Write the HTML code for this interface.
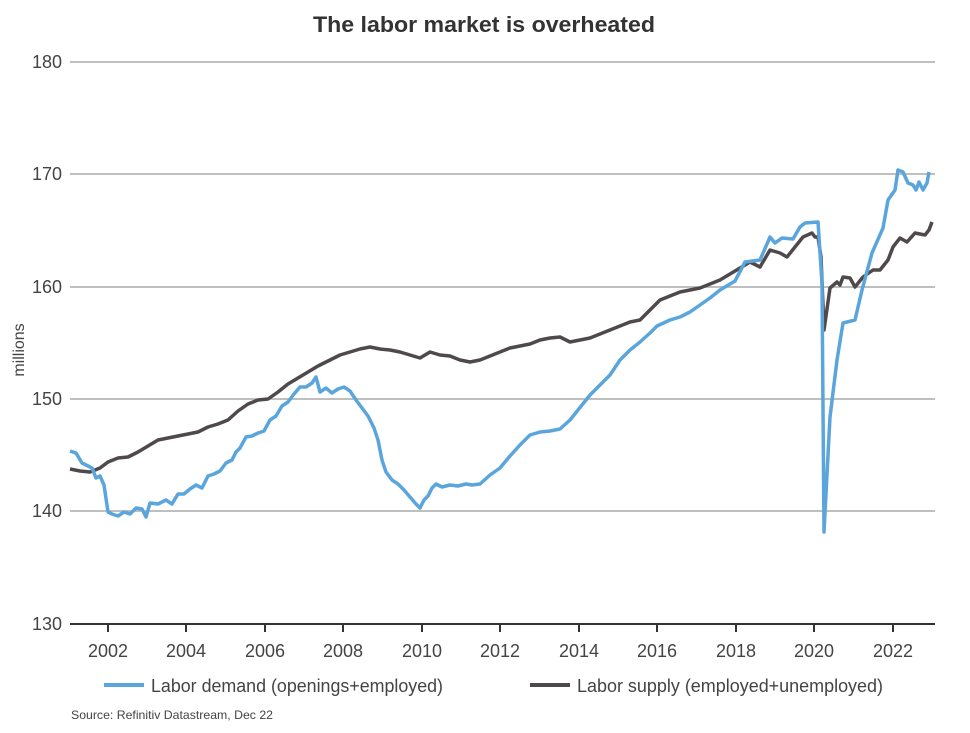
<!DOCTYPE html><html><head><meta charset="utf-8"><style>body{margin:0;background:#fff;width:970px;height:728px;overflow:hidden}svg{font-family:"Liberation Sans",sans-serif}</style></head><body>
<svg width="970" height="728" viewBox="0 0 970 728">
<text x="484" y="32" text-anchor="middle" font-size="22" font-weight="bold" fill="#333" textLength="342" lengthAdjust="spacingAndGlyphs">The labor market is overheated</text>
<g stroke="#aaa" stroke-width="1.5">
<line x1="70" y1="62" x2="935" y2="62"/><line x1="70" y1="174" x2="935" y2="174"/><line x1="70" y1="287" x2="935" y2="287"/><line x1="70" y1="399" x2="935" y2="399"/><line x1="70" y1="511" x2="935" y2="511"/></g>
<line x1="70" y1="624" x2="935" y2="624" stroke="#333" stroke-width="2"/>
<g stroke="#333" stroke-width="2">
<line x1="108" y1="624" x2="108" y2="632"/><line x1="186" y1="624" x2="186" y2="632"/><line x1="265" y1="624" x2="265" y2="632"/><line x1="343" y1="624" x2="343" y2="632"/><line x1="422" y1="624" x2="422" y2="632"/><line x1="500" y1="624" x2="500" y2="632"/><line x1="579" y1="624" x2="579" y2="632"/><line x1="657" y1="624" x2="657" y2="632"/><line x1="736" y1="624" x2="736" y2="632"/><line x1="814" y1="624" x2="814" y2="632"/><line x1="893" y1="624" x2="893" y2="632"/></g>
<g font-size="18" fill="#444" text-anchor="end">
<text x="62" y="68">180</text><text x="62" y="180">170</text><text x="62" y="293">160</text><text x="62" y="405">150</text><text x="62" y="517">140</text><text x="62" y="630">130</text></g>
<g font-size="18" fill="#444" text-anchor="middle">
<text x="108" y="657">2002</text><text x="186" y="657">2004</text><text x="265" y="657">2006</text><text x="343" y="657">2008</text><text x="422" y="657">2010</text><text x="500" y="657">2012</text><text x="579" y="657">2014</text><text x="657" y="657">2016</text><text x="736" y="657">2018</text><text x="814" y="657">2020</text><text x="893" y="657">2022</text></g>
<text transform="translate(24,350) rotate(-90)" font-size="16" fill="#444" text-anchor="middle">millions</text>
<polyline fill="none" stroke="#4f494b" stroke-width="3.5" stroke-linejoin="round" points="70,469 80,471 90,472 100,468 108,462 118,458 128,457 138,452 148,446 158,440 168,438 178,436 188,434 198,432 208,427 218,424 228,420 238,411 248,404 258,400 268,399 278,392 288,384 298,378 308,372 318,366 330,360 340,355 350,352 360,349 370,347 380,349 390,350 400,352 410,355 420,358 430,352 440,355 450,356 460,360 470,362 480,360 490,356 500,352 510,348 520,346 530,344 540,340 550,338 560,337 570,342 580,340 590,338 600,334 610,330 620,326 630,322 640,320 650,310 660,300 670,296 680,292 690,290 700,288 710,284 720,280 730,274 740,268 750,262 760,267 770,250 780,253 787,257 803,237 812,233 815,237 818,237 821,257 824,330 830,288 837,282 840,285 843,277 850,278 855,287 863,277 873,270 880,270 888,260 893,247 900,238 907,242 915,233 925,235 929,230 932,222"/>
<polyline fill="none" stroke="#5aa5dc" stroke-width="3.5" stroke-linejoin="round" points="70,451 76,453 82,463 88,466 92,468 96,478 100,476 104,485 108,512 112,514 118,516 124,512 130,514 136,508 142,509 146,517 150,503 158,504 166,500 172,504 178,494 184,494 190,489 196,485 202,488 208,476 214,474 220,471 226,463 232,460 236,452 240,448 246,437 252,436 258,433 264,431 270,420 276,416 282,406 288,402 294,394 300,387 306,387 312,383 316,377 320,392 326,388 332,393 338,389 344,387 350,391 356,400 362,408 368,416 374,428 378,440 382,460 386,472 392,480 398,484 404,490 410,497 416,504 420,508 424,500 428,496 432,488 436,484 442,487 450,485 458,486 466,484 472,485 480,484 490,475 500,468 510,456 520,445 530,435 540,432 550,431 560,429 570,420 578,410 590,395 600,385 610,375 620,360 630,350 640,342 650,333 657,326 670,320 680,317 690,312 700,305 710,298 720,290 735,281 745,262 760,260 770,237 775,243 782,238 793,239 800,227 805,223 818,222 822,283 824,532 830,417 837,360 843,323 855,320 862,290 872,253 883,228 888,200 895,190 898,170 903,172 908,183 913,185 916,190 919,182 923,190 927,183 929,172"/>
<line x1="104" y1="685" x2="144" y2="685" stroke="#5aa5dc" stroke-width="4"/>
<text x="151" y="692" font-size="18" fill="#444" textLength="292" lengthAdjust="spacingAndGlyphs">Labor demand (openings+employed)</text>
<line x1="530" y1="685" x2="570" y2="685" stroke="#4f494b" stroke-width="4"/>
<text x="577" y="692" font-size="18" fill="#444" textLength="306" lengthAdjust="spacingAndGlyphs">Labor supply (employed+unemployed)</text>
<text x="71" y="719" font-size="12" fill="#444" textLength="202" lengthAdjust="spacingAndGlyphs">Source: Refinitiv Datastream, Dec 22</text>
</svg></body></html>
